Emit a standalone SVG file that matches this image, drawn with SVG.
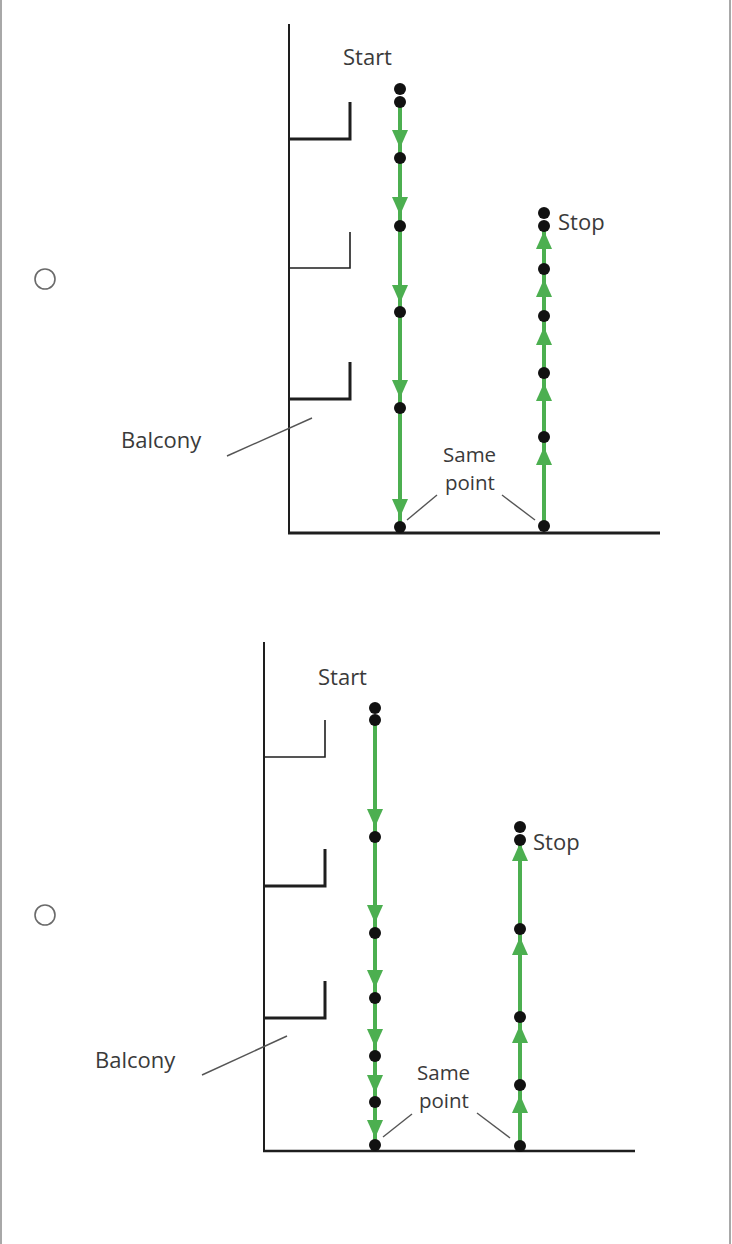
<svg xmlns="http://www.w3.org/2000/svg" xmlns:xlink="http://www.w3.org/1999/xlink" width="732" height="1244" viewBox="0 0 732 1244">
<style>
  .frame{stroke:#a8a8a8;stroke-width:2;fill:none}
  .radio{fill:#fff;stroke:#6a6a6a;stroke-width:1.6}
  .wall{stroke:#1e1e1e;stroke-width:2;fill:none}
  .ground{stroke:#1e1e1e;stroke-width:3;fill:none}
  .bal{stroke:#1e1e1e;fill:none;stroke-linejoin:miter}
  .thick{stroke-width:3}
  .thin{stroke-width:1.6}
  .lead{stroke:#555;stroke-width:1.4;fill:none}
  .path{stroke:#4caf50;stroke-width:4;fill:none}
  .head{fill:#4caf50}
  .dot{fill:#111}
  text{font-family:"Open Sans","Liberation Sans",sans-serif;font-size:22px;fill:#3a3a3a}
  text.sp{font-size:20.5px}
</style>
<defs>
  <path id="ad" d="M-8,-18 L8,-18 L0,0 Z"/>
  <path id="au" d="M-8,18 L8,18 L0,0 Z"/>
</defs>
<rect x="0" y="0" width="732" height="1244" fill="#fff"/>
<line class="frame" x1="1" y1="0" x2="1" y2="1244"/>
<line class="frame" x1="730" y1="0" x2="730" y2="1244"/>

<g id="option1">
  <circle id="radio1" class="radio" cx="45" cy="279" r="10"/>
  <g id="building1">
    <line class="wall" x1="289" y1="24" x2="289" y2="534"/>
    <line class="ground" x1="288" y1="533" x2="660" y2="533"/>
    <path class="bal thick" d="M289,139 H350 V102"/>
    <path class="bal thin" d="M289,268 H350 V232"/>
    <path class="bal thick" d="M289,399 H350 V362"/>
  </g>
  <g id="labels1">
    <text x="343" y="65">Start</text>
    <text x="558" y="230">Stop</text>
    <text x="121" y="448">Balcony</text>
    <text class="sp" x="443" y="462">Same</text>
    <text class="sp" x="445" y="490">point</text>
  </g>
  <g id="connectors1">
    <line class="lead" x1="227" y1="456" x2="312" y2="418"/>
    <line class="lead" x1="437" y1="495" x2="407" y2="520"/>
    <line class="lead" x1="502" y1="495" x2="535" y2="520"/>
    <line class="path" x1="400" y1="102" x2="400" y2="527"/>
    <g class="head">
      <use xlink:href="#ad" x="400" y="148"/>
      <use xlink:href="#ad" x="400" y="215"/>
      <use xlink:href="#ad" x="400" y="303"/>
      <use xlink:href="#ad" x="400" y="398"/>
      <use xlink:href="#ad" x="400" y="517"/>
    </g>
    <line class="path" x1="544" y1="226" x2="544" y2="526"/>
    <g class="head">
      <use xlink:href="#au" x="544" y="231"/>
      <use xlink:href="#au" x="544" y="279"/>
      <use xlink:href="#au" x="544" y="327"/>
      <use xlink:href="#au" x="544" y="383"/>
      <use xlink:href="#au" x="544" y="447"/>
    </g>
  </g>
  <g id="dots1" class="dot">
    <circle cx="400" cy="89" r="6"/>
    <circle cx="400" cy="102" r="6"/>
    <circle cx="400" cy="158" r="6"/>
    <circle cx="400" cy="226" r="6"/>
    <circle cx="400" cy="312" r="6"/>
    <circle cx="400" cy="408" r="6"/>
    <circle cx="400" cy="527" r="6"/>
    <circle cx="544" cy="213" r="6"/>
    <circle cx="544" cy="226" r="6"/>
    <circle cx="544" cy="269" r="6"/>
    <circle cx="544" cy="316" r="6"/>
    <circle cx="544" cy="373" r="6"/>
    <circle cx="544" cy="437" r="6"/>
    <circle cx="544" cy="526" r="6"/>
  </g>
</g>

<g id="option2">
  <circle id="radio2" class="radio" cx="45" cy="915" r="10"/>
  <g id="building2">
    <line class="wall" x1="264" y1="642" x2="264" y2="1152"/>
    <line class="ground" x1="263" y1="1151" x2="635" y2="1151" style="stroke-width:2.4"/>
    <path class="bal thin" d="M264,757 H325 V720"/>
    <path class="bal thick" d="M264,886 H325 V849"/>
    <path class="bal thick" d="M264,1018 H325 V981"/>
  </g>
  <g id="labels2">
    <text x="318" y="685">Start</text>
    <text x="533" y="850">Stop</text>
    <text x="95" y="1068">Balcony</text>
    <text class="sp" x="417" y="1080">Same</text>
    <text class="sp" x="419" y="1108">point</text>
  </g>
  <g id="connectors2">
    <line class="lead" x1="202" y1="1075" x2="287" y2="1036"/>
    <line class="lead" x1="412" y1="1114" x2="383" y2="1137"/>
    <line class="lead" x1="477" y1="1113" x2="510" y2="1138"/>
    <line class="path" x1="375" y1="720" x2="375" y2="1145"/>
    <g class="head">
      <use xlink:href="#ad" x="375" y="827"/>
      <use xlink:href="#ad" x="375" y="923"/>
      <use xlink:href="#ad" x="375" y="988"/>
      <use xlink:href="#ad" x="375" y="1047"/>
      <use xlink:href="#ad" x="375" y="1093"/>
      <use xlink:href="#ad" x="375" y="1138"/>
    </g>
    <line class="path" x1="520" y1="840" x2="520" y2="1146"/>
    <g class="head">
      <use xlink:href="#au" x="520" y="843"/>
      <use xlink:href="#au" x="520" y="937"/>
      <use xlink:href="#au" x="520" y="1025"/>
      <use xlink:href="#au" x="520" y="1095"/>
    </g>
  </g>
  <g id="dots2" class="dot">
    <circle cx="375" cy="708" r="6"/>
    <circle cx="375" cy="720" r="6"/>
    <circle cx="375" cy="837" r="6"/>
    <circle cx="375" cy="933" r="6"/>
    <circle cx="375" cy="998" r="6"/>
    <circle cx="375" cy="1056" r="6"/>
    <circle cx="375" cy="1102" r="6"/>
    <circle cx="375" cy="1145" r="6"/>
    <circle cx="520" cy="827" r="6"/>
    <circle cx="520" cy="840" r="6"/>
    <circle cx="520" cy="929" r="6"/>
    <circle cx="520" cy="1017" r="6"/>
    <circle cx="520" cy="1085" r="6"/>
    <circle cx="520" cy="1146" r="6"/>
  </g>
</g>
</svg>
